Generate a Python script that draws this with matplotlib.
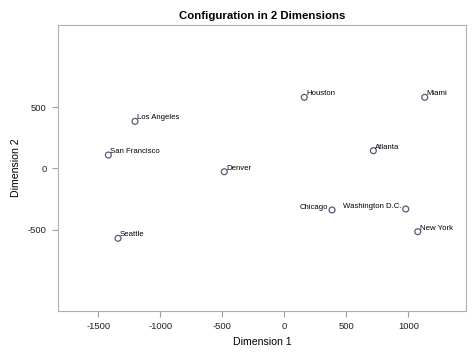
import matplotlib.pyplot as plt

cities = ["Los Angeles", "San Francisco", "Denver", "Seattle", "Houston",
          "Miami", "Atlanta", "Chicago", "Washington D.C.", "New York"]
dim1 = [-1204, -1419, -484, -1341, 161, 1132, 718, 385, 979, 1076]
dim2 = [383, 108, -28, -571, 579, 579, 144, -340, -332, -517]
left_labels = ["Chicago", "Washington D.C."]

plt.rcParams["font.family"] = ["Liberation Sans", "DejaVu Sans"]
plt.rcParams["axes.unicode_minus"] = False

fig = plt.figure(figsize=(4.74, 3.55), dpi=100)
ax = fig.add_axes([58 / 474, 1 - 311 / 355, 408 / 474, 286 / 355])

ax.scatter(dim1, dim2, s=18, facecolors="none", edgecolors="#555a78",
           linewidths=0.9, zorder=3)
for name, x, y in zip(cities, dim1, dim2):
    if name in left_labels:
        ax.annotate(name, (x, y), xytext=(-3, 2), textcoords="offset points",
                    ha="right", va="center", fontsize=5.6)
    else:
        ax.annotate(name, (x, y), xytext=(1.5, 2.5), textcoords="offset points",
                    ha="left", va="center", fontsize=5.6)

ax.set_xlim(-1825, 1465)
ax.set_ylim(-1164, 1169)
ax.set_xticks([-1500, -1000, -500, 0, 500, 1000])
ax.set_yticks([-500, 0, 500])
ax.tick_params(labelsize=6.8, colors="#222222", length=4, color="#a0a0a0", pad=4)
for sp in ax.spines.values():
    sp.set_color("#b0b0b0")

ax.set_xlabel("Dimension 1", fontsize=7.6, labelpad=4)
ax.set_ylabel("Dimension 2", fontsize=7.6, labelpad=5)
ax.set_title("Configuration in 2 Dimensions", fontsize=8.2, fontweight="bold", pad=4)

fig.savefig("out.png", dpi=100)
